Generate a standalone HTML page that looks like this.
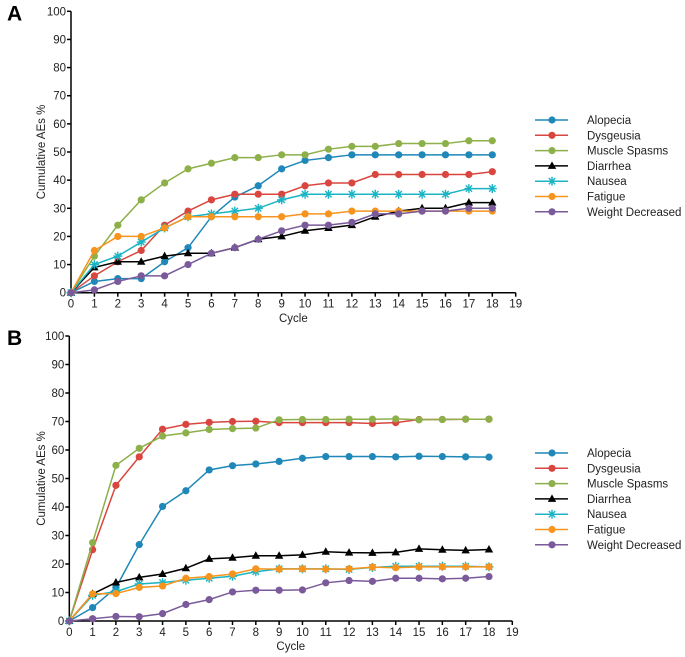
<!DOCTYPE html>
<html><head><meta charset="utf-8"><style>
body{margin:0;background:#fff;}
svg{display:block;font-family:"Liberation Sans",Arial,sans-serif;}
</style></head><body>
<svg id="chart" width="685" height="657"></svg>
<script>
const cycles=[0,1,2,3,4,5,6,7,8,9,10,11,12,13,14,15,16,17,18];
const xTicks=[0,1,2,3,4,5,6,7,8,9,10,11,12,13,14,15,16,17,18,19];
const yTicks=[0,10,20,30,40,50,60,70,80,90,100];
const seriesNames=["Alopecia","Dysgeusia","Muscle Spasms","Diarrhea","Nausea","Fatigue","Weight Decreased"];
const seriesColors=["#1f88b8","#d9463f","#8db04a","#000000","#1ab4c4","#f7941d","#7a5a9a"];
const seriesMarkers=["circle","circle","circle","triangle","star","circle","circle"];
const aAlopecia=[0,4,5,5,11,16,27,34,38,44,47,48,49,49,49,49,49,49,49];
const aDysgeusia=[0,6,11,15,24,29,33,35,35,35,38,39,39,42,42,42,42,42,43];
const aMuscle=[0,13,24,33,39,44,46,48,48,49,49,51,52,52,53,53,53,54,54];
const aDiarrhea=[0,9,11,11,13,14,14,16,19,20,22,23,24,27,29,30,30,32,32];
const aNausea=[0,10,13,18,23,27,28,29,30,33,35,35,35,35,35,35,35,37,37];
const aFatigue=[0,15,20,20,23,27,27,27,27,27,28,28,29,29,29,29,29,29,29];
const aWeight=[0,1,4,6,6,10,14,16,19,22,24,24,25,28,28,29,29,30,30];
const bAlopecia=[0,4.7,11.7,26.8,40.2,45.7,53,54.5,55.1,56,57.1,57.7,57.7,57.7,57.6,57.8,57.7,57.6,57.5];
const bDysgeusia=[0,25,47.6,57.6,67.3,69,69.7,70,70.1,69.6,69.6,69.6,69.6,69.3,69.6,70.7,70.7,70.8,70.8];
const bMuscle=[0,27.5,54.6,60.6,64.9,66,67.2,67.5,67.7,70.6,70.7,70.7,70.8,70.8,70.9,70.6,70.7,70.8,70.8];
const bDiarrhea=[0,9.5,13.5,15.3,16.5,18.5,21.8,22.2,22.9,22.9,23.2,24.3,24,23.9,24.1,25.3,25,24.8,25.1];
const bNausea=[0,9,10.3,13,13.5,14.3,15,15.7,17.3,18.3,18.3,18.3,18.1,18.8,19.2,19.2,19.2,19.2,19];
const bFatigue=[0,9.5,9.6,11.8,12.3,15,15.6,16.5,18.3,18.2,18.3,18.2,18.3,18.9,18.7,19,19,19,19];
const bWeight=[0,0.8,1.6,1.5,2.6,5.8,7.5,10.2,10.8,10.8,10.9,13.4,14.2,13.9,15,15,14.8,15,15.6];

const NS="http://www.w3.org/2000/svg";
const svg=document.getElementById('chart');
function mk(tag,attrs,parent,text){const e=document.createElementNS(NS,tag);for(const k in attrs)e.setAttribute(k,attrs[k]);if(text!==undefined)e.textContent=text;(parent||svg).appendChild(e);return e;}

function marker(g,type,x,y,color){
  let m;
  if(type==="circle"){m=mk('circle',{cx:x,cy:y,r:3.6,fill:color},g);}
  else if(type==="triangle"){m=mk('polygon',{points:`${x},${y-4.5} ${x-4.2},${y+3} ${x+4.2},${y+3}`,fill:color},g);}
  else{m=mk('g',{stroke:color,'stroke-width':1.4},g);
    for(let a=0;a<4;a++){const t=a*Math.PI/4;mk('line',{x1:x-4.5*Math.cos(t),y1:y-4.5*Math.sin(t),x2:x+4.5*Math.cos(t),y2:y+4.5*Math.sin(t)},m);}}
  return m;
}

function panel(id,letter,x0,x19,y0,y100,data,legTop,titleY){
  const g=mk('g',{});
  
  
  const sx=v=>x0+(x19-x0)*v/19;
  const sy=v=>y0-(y0-y100)*v/100;
  const lt=mk('text',{x:7,y:y100+9,'font-size':21,'font-weight':'bold',fill:'#000'},g,letter);
  
  
  const ax=mk('g',{stroke:'#000','stroke-width':1.5,fill:'none'},g);
  
  
  mk('line',{x1:x0,y1:y100,x2:x0,y2:y0},ax);
  mk('line',{x1:x0,y1:y0,x2:x19,y2:y0},ax);
  yTicks.forEach(v=>{
    mk('line',{x1:x0-4,y1:sy(v),x2:x0,y2:sy(v)},ax);
    const t=mk('text',{x:x0-5,y:sy(v)+4,'font-size':11.5,'text-anchor':'end',fill:'#222'},g,String(v));
    
    
  });
  xTicks.forEach(v=>{
    mk('line',{x1:sx(v),y1:y0,x2:sx(v),y2:y0+4},ax);
    const t=mk('text',{x:sx(v),y:y0+15,'font-size':11.5,'text-anchor':'middle',fill:'#222'},g,String(v));
    
    
  });
  const xt=mk('text',{x:(x0+x19)/2,y:titleY,'font-size':11.5,'text-anchor':'middle',fill:'#222'},g,'Cycle');
  
  
  const ym=(y0+y100)/2;
  const yt=mk('text',{x:45,y:ym,'font-size':11.5,'text-anchor':'middle',fill:'#222',transform:`rotate(-90 45 ${ym})`},g,'Cumulative AEs %');
  
  
  data.forEach((vals,i)=>{
    const sg=mk('g',{},g);
    
    
    mk('polyline',{points:vals.map((v,j)=>sx(cycles[j])+','+sy(v)).join(' '),fill:'none',stroke:seriesColors[i],'stroke-width':1.5},sg);
    vals.forEach((v,j)=>{const m=marker(sg,seriesMarkers[i],sx(cycles[j]),sy(v),seriesColors[i]);
      
      });
  });
  seriesNames.forEach((n,i)=>{
    const y=legTop+i*15.3;
    const le=mk('g',{},g);
    
    
    mk('line',{x1:535,y1:y,x2:568,y2:y,stroke:seriesColors[i],'stroke-width':1.5},le);
    marker(le,seriesMarkers[i],552,y,seriesColors[i]);
    mk('text',{x:587,y:y+4,'font-size':11.5,fill:'#222'},le,n);
  });
}
panel('a','A',71,515.7,292.7,11.3,[aAlopecia,aDysgeusia,aMuscle,aDiarrhea,aNausea,aFatigue,aWeight],120,322);
panel('b','B',69.3,512.3,621,336,[bAlopecia,bDysgeusia,bMuscle,bDiarrhea,bNausea,bFatigue,bWeight],453,650);
</script>
</body></html>
